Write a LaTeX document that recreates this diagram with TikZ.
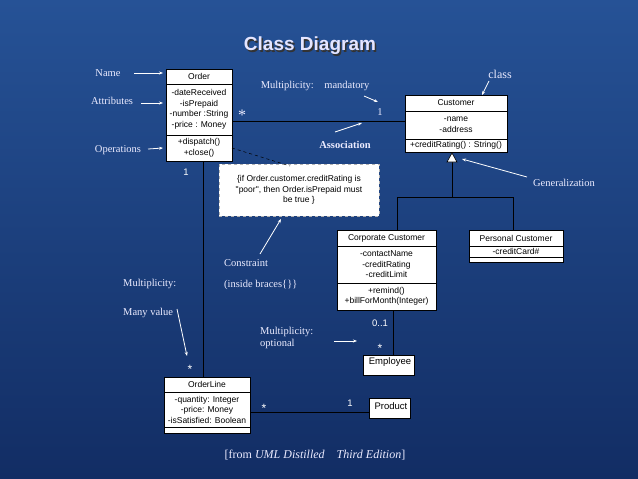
\documentclass[tikz,border=0pt]{standalone}
\usepackage{fontspec}
\setmainfont{Liberation Serif}
\newfontfamily\uml{Liberation Sans}
\usetikzlibrary{arrows.meta}
\begin{document}
\begin{tikzpicture}[x=1pt,y=-1pt,
 box/.style={draw=black,fill=white,line width=0.8pt,inner sep=0pt,anchor=north west},
 ut/.style={font=\uml\fontsize{8.5}{10.5}\selectfont,text=black,align=center,inner sep=0pt},
 lab/.style={font=\fontsize{10.5}{12}\selectfont,text=white!92!blue,inner sep=0pt},
 mul/.style={font=\uml\fontsize{9.5}{10}\selectfont,text=white,inner sep=0pt},
 ln/.style={draw=black,line width=0.8pt},
 arr/.style={draw=white,line width=0.8pt,-{Stealth[length=4pt,width=3pt]}}]
\shade[top color={rgb,255:red,38;green,82;blue,150},bottom color={rgb,255:red,18;green,45;blue,100}] (0,0) rectangle (638,479);
\useasboundingbox (0,0) rectangle (638,479);
\node[font=\uml\bfseries\fontsize{19}{22}\selectfont,text=black!80] (tshadow) at (311.5,47.5) {Class Diagram};
\node[font=\uml\bfseries\fontsize{19}{22}\selectfont,text=white!90!blue] (title) at (310,46) {Class Diagram};
% Order
\node[box,minimum width=66,minimum height=92] (order) at (166,69) {};
\draw[ln] (166,84)--(232,84) (166,135)--(232,135);
\node[ut] (on) at (199,76.5) {Order};
\node[ut] (oa) at (199,109.5) {-dateReceived\\-isPrepaid\\-number :String\\-price : Money};
\node[ut] (oo) at (199,148) {+dispatch()\\+close()};
% Customer
\node[box,minimum width=102,minimum height=57] (cust) at (405,95) {};
\draw[ln] (405,111)--(507,111) (405,139)--(507,139);
\node[ut] (cn) at (456,103) {Customer};
\node[ut] (ca) at (456,125) {-name\\-address};
\node[ut] (co) at (456,145.5) {+creditRating() : String()};
% Corporate
\node[box,minimum width=99,minimum height=80] (corp) at (337,230) {};
\draw[ln] (337,246)--(436,246) (337,283)--(436,283);
\node[ut] (crn) at (386.5,238) {Corporate Customer};
\node[ut] (cra) at (386.5,264.5) {-contactName\\-creditRating\\-creditLimit};
\node[ut] (cro) at (386.5,296.5) {+remind()\\+billForMonth(Integer)};
% Personal
\node[box,minimum width=94,minimum height=32] (pers) at (469,230) {};
\draw[ln] (469,246)--(563,246) (469,257)--(563,257);
\node[ut] (pn) at (516,238) {Personal Customer};
\node[ut] (pa) at (516,251.5) {-creditCard\#};
% Employee
\node[box,minimum width=51,minimum height=20] (emp) at (363,355) {};
\node[ut,font=\uml\fontsize{9.5}{10}\selectfont] (en) at (390,362) {Employee};
% OrderLine
\node[box,minimum width=86,minimum height=56] (ol) at (164,377) {};
\draw[ln] (164,392)--(250,392) (164,427)--(250,427);
\node[ut] (oln) at (207,384.5) {OrderLine};
\node[ut] (ola) at (207,409.5) {-quantity: Integer\\-price: Money\\-isSatisfied: Boolean};
% Product
\node[box,minimum width=41,minimum height=20] (prod) at (369,398) {};
\node[ut,font=\uml\fontsize{9.5}{10}\selectfont] (pn2) at (391,406) {Product};
% Note
\node[box,draw=gray!60,dashed,line width=0.5pt,minimum width=160,minimum height=52] (note) at (219,164) {};
\node[ut] (nt) at (299,190) {\{if Order.customer.creditRating is\\"poor", then Order.isPrepaid must\\be true \}};
\draw[black,dashed,line width=0.5pt] (232,148) -- (290,166);
% connectors
\draw[ln] (232,121) -- (405,121);
\draw[ln] (203,161) -- (203,377);
\draw[ln] (250,412) -- (369,412);
\draw[ln] (393,310) -- (393,355);
\draw[ln] (452,162) -- (452,197) (397,230) -- (397,197) -- (513,197) -- (513,230);
\draw[black,fill=white,line width=0.6pt] (452,153) -- (457,162) -- (447,162) -- cycle;
% multiplicities
\node[lab,font=\fontsize{16}{16}\selectfont] (m1) at (242,115) {*};
\node[lab] (m2) at (380,112) {1};
\node[mul] (m3) at (186,172) {1};
\node[mul,font=\uml\fontsize{12}{12}\selectfont] (m4) at (190,369) {*};
\node[mul,font=\uml\fontsize{12}{12}\selectfont] (m5) at (264,408) {*};
\node[mul] (m6) at (350,403) {1};
\node[mul] (m7) at (380,323) {0..1};
\node[mul,font=\uml\fontsize{12}{12}\selectfont] (m8) at (380,348) {*};
% labels
\node[lab] (l1) at (108,73) {Name};
\draw[arr] (134,73) -- (163,73);
\node[lab] (l2) at (112,101) {Attributes};
\draw[arr] (141,103) -- (163,103);
\node[lab] (l3) at (118,150) {Operations};
\draw[arr] (148,149) -- (163,148);
\node[lab] (l4) at (315,86) {Multiplicity:\quad mandatory};
\draw[arr] (364,96) -- (378,102);
\node[lab,font=\bfseries\fontsize{10.5}{12}\selectfont] (l5) at (345,145) {Association};
\draw[arr] (335,132) -- (362,123);
\node[lab,font=\fontsize{12}{12}\selectfont] (l6) at (500,74) {class};
\draw[arr] (489,81) -- (482,95);
\node[lab] (l7) at (564,183) {Generalization};
\draw[arr] (527,177) -- (462,159);
\node[lab,anchor=west] (l8) at (224,263) {Constraint};
\node[lab,anchor=west] (l9) at (224,285) {(inside braces\{\}\}};
\draw[arr] (260,254) -- (281,219);
\node[lab,anchor=west] (l10) at (123,284) {Multiplicity:};
\node[lab,anchor=west] (l11) at (123,313) {Many value};
\draw[arr] (177,309) -- (187,356);
\node[lab,anchor=west,align=left] (l12) at (260,338) {Multiplicity:\\optional};
\draw[arr] (334,341) -- (357,341);
\node[lab,font=\fontsize{12}{12}\selectfont] (l13) at (315,455) {[from \textit{UML Distilled}\quad\textit{Third Edition}]};
\end{tikzpicture}
\end{document}
